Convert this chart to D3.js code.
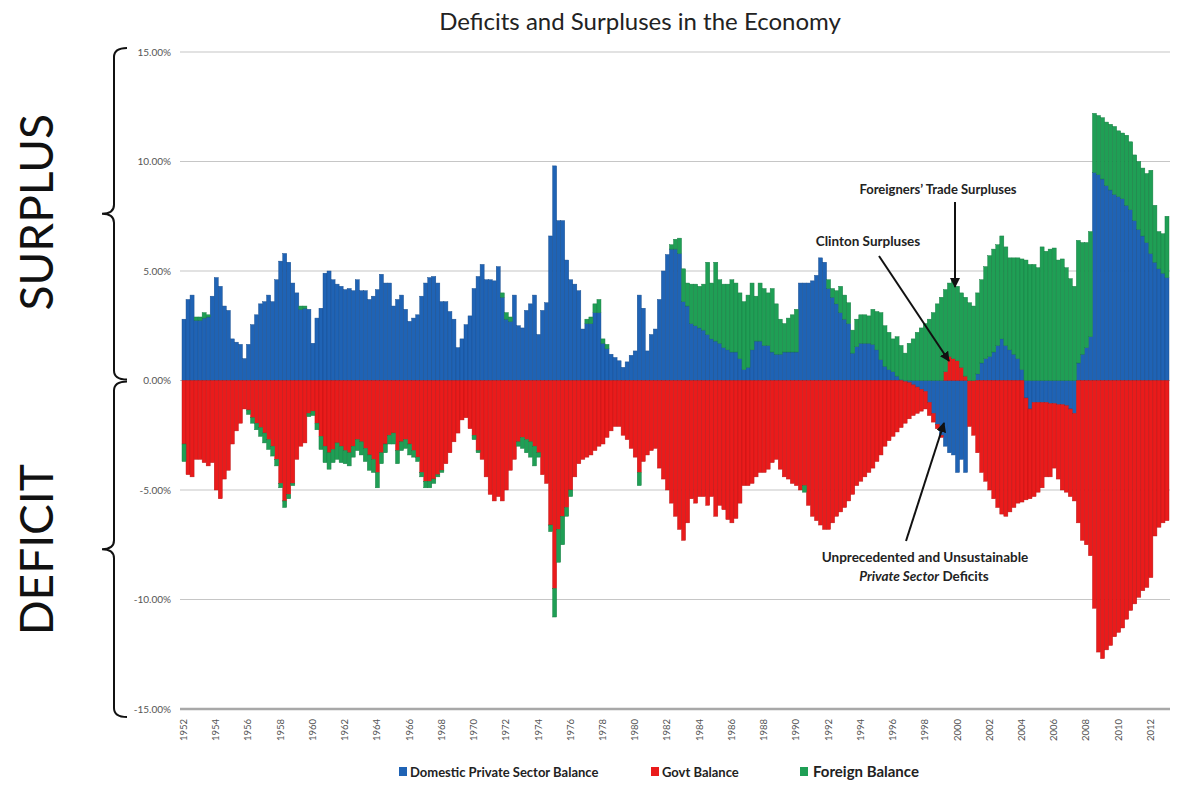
<!DOCTYPE html>
<html>
<head>
<meta charset="utf-8">
<script src="https://cdn.jsdelivr.net/npm/d3@7/dist/d3.min.js"></script>
<style>
  body { margin: 0; background: #ffffff; }
  svg { display: block; }
</style>
</head>
<body>
<svg id="chart"></svg>
<script>
// Quarterly sector balances, % of GDP, 1952Q1 .. 2013Q1
const firstYear = 1952;

const privateBalance = [
  2.8,3.7,3.9,2.75,2.75,2.85,2.9,3.85,4.7,4.3, 3.4,3.2,1.9,1.75,1.65,1.0,1.65,2.55,3.0,3.5,
  3.6,3.9,3.6,4.6,5.45,5.8,5.4,4.45,4.0,3.25, 3.3,3.25,1.7,2.85,3.3,4.9,5.0,4.6,4.4,4.3,
  4.15,4.2,4.1,4.6,4.1,4.1,3.7,3.85,4.15,4.85, 4.45,4.45,3.4,3.7,3.9,3.25,2.7,2.85,3.0,3.85,
  4.45,4.7,4.75,4.45,3.6,3.6,3.15,2.8,1.5,1.9, 2.55,2.95,4.2,4.75,5.3,4.6,4.6,4.55,5.2,3.8,
  2.8,
  2.7,3.9,2.5,2.4,3.2,3.5,3.9,2.1,3.2,3.55, 6.6,9.8,7.3,7.3,5.5,4.6,4.4,4.1,2.35,2.6,
  2.6,3.1,3.1,1.7,1.45,1.2,1.05,0.9,0.6,0.85, 1.15,1.35,3.9,3.3,1.35,2.1,2.35,3.7,5.0,5.75,
  6.0,6.0,
  5.8,3.6,3.4,2.6,2.5,2.4,2.3,2.1,1.9,1.8, 1.7,1.5,1.4,1.3,1.3,1.0,0.5,0.6,1.4,1.8,
  1.8,1.6,1.6,1.3,1.2,1.2,1.3,1.3,1.3,1.3, 4.45,4.45,4.45,4.55,4.8,5.6,5.4,4.2,3.8,3.5,
  3.1,2.8,2.6,1.25,1.55,1.7,1.7,1.7,1.65,1.4, 0.95,0.65,0.5,0.4,0.2,0.05,-0.05,-0.1,-0.2,-0.3,
  -0.4,-0.5,-1.0,-1.5,-2.0,-2.5,-3.0,-3.3,-3.4,-4.2, -3.6,-4.2,0,0,0.3,0.8,1.0,1.1,1.3,1.6,
  1.9,1.6,1.4,1.2,1.0,0.5,-0.8,-1.3,-1.0,-1.0, -1.0,-1.0,-1.05,-1.05,-1.1,-1.1,-1.15,-1.3,-1.5,0.8,
  1.2,1.5,2.0,9.5,9.4,9.2,8.9,8.7,8.5,8.4, 8.3,8.0,7.8,7.3,6.9,6.6,6.3,5.8,5.4,5.1,
  4.9,4.7
];

const govtBalance = [
  -2.9,-4.3,-4.4,-3.6,-3.6,-3.75,-3.9,-3.75,-5.0,-5.4, -4.5,-4.1,-2.9,-2.3,-1.95,-1.3,-1.35,-1.7,-1.95,-2.15,
  -2.4,-2.7,-3.0,-3.6,-4.7,-5.5,-5.2,-4.7,-3.6,-3.0, -2.85,-1.5,-1.4,-1.95,-2.55,-3.0,-3.3,-3.15,-2.85,-3.0,
  -3.2,-3.3,-3.0,-2.7,-2.8,-3.1,-3.4,-3.6,-4.2,-3.3, -2.9,-2.5,-2.4,-3.2,-2.8,-2.7,-2.9,-3.2,-3.5,-4.2,
  -4.6,-4.6,-4.5,-4.3,-4.1,-3.8,-3.3,-2.8,-2.4,-1.8, -1.7,-2.2,-2.5,-3.2,-3.6,-4.4,-5.2,-5.5,-5.3,-5.5,
  -5.0,
  -4.1,-3.6,-2.8,-2.6,-2.7,-2.8,-3.0,-3.3,-4.3,-4.7, -6.6,-9.5,-6.8,-6.2,-5.8,-5.0,-4.4,-3.8,-3.6,-3.5,
  -3.4,-3.2,-3.0,-2.9,-2.6,-2.3,-2.1,-2.1,-2.5,-2.7, -3.1,-3.5,-4.2,-3.7,-3.4,-3.2,-3.1,-4.0,-4.5,-5.0,
  -5.6,-6.2,
  -6.8,-7.3,-6.5,-5.4,-5.6,-5.3,-5.3,-5.7,-5.3,-6.2, -5.7,-5.9,-6.35,-6.5,-6.3,-5.6,-4.8,-4.8,-4.7,-4.4,
  -4.2,-4.2,-4.05,-3.75,-3.6,-4.05,-4.4,-4.5,-4.7,-4.8, -5.0,-4.8,-5.7,-6.2,-6.4,-6.6,-6.8,-6.8,-6.5,-6.2,
  -6.0,-5.8,-5.5,-5.2,-4.8,-4.6,-4.4,-4.2,-4.0,-3.7, -3.4,-3.0,-2.75,-2.55,-2.35,-2.15,-1.9,-1.65,-1.4,-1.2,
  -1.0,-0.8,-0.6,-0.4,-0.2,-0.1,0.4,1.1,1.0,0.9, 0.6,0.2,-2.1,-2.5,-3.3,-4.2,-4.6,-5.0,-5.4,-5.8,
  -6.1,-6.2,-6.0,-5.8,-5.6,-5.55,-4.65,-4.1,-4.3,-4.1, -3.9,-3.4,-3.35,-2.95,-3.4,-3.9,-3.95,-4.0,-4.0,-6.5,
  -7.3,-7.5,-8.0,-10.4,-12.4,-12.7,-12.3,-12.1,-11.7,-11.5, -11.3,-10.9,-10.5,-10.2,-9.9,-9.6,-9.45,-9.0,-7.1,-6.7,
  -6.5,-6.4
];

const foreignBalance = [
  -0.8,0,0,0.15,0.15,0.25,0.1,0,0,0, 0,0,0,0,0,0,-0.2,-0.25,-0.3,-0.4,
  -0.45,-0.45,-0.45,-0.3,-0.2,-0.3,-0.2,-0.1,0,0.15, 0.1,-0.15,-0.2,-0.3,-0.6,-0.75,-0.75,-0.6,-0.75,-0.75,
  -0.6,-0.6,-0.5,-0.5,-0.6,-0.6,-0.7,-0.6,-0.7,-0.5, -0.4,-0.4,-0.5,-0.6,-0.4,-0.4,-0.5,-0.3,-0.2,-0.2,
  -0.3,-0.3,-0.2,-0.1,-0.1,0,0,0,0,0, 0,0,-0.2,-0.1,0,0,0,0,0,0.2,
  0.3,
  0.2,0,-0.2,-0.5,-0.6,-0.7,-0.9,-0.2,0,0, -0.3,-1.3,-1.5,-1.3,-0.4,-0.3,0,0,0,0.2,
  0.3,0.4,0.6,0.2,0.2,0,0,0,0,0, 0,0,-0.6,0,0,0,0,0,0,0,
  0.2,0.45,
  0.7,1.5,1.05,1.8,1.9,1.9,2.1,3.3,2.55,3.6, 2.9,2.9,3.0,3.3,3.15,3.0,3.1,3.3,3.05,2.05,
  2.65,2.6,2.4,2.9,2.3,1.6,1.3,1.55,1.7,1.95, 0,-0.3,0,0,0,0,0,0.4,0.4,0.6,
  1.2,1.1,0.95,1.05,1.25,1.3,1.3,1.25,1.6,1.75, 2.15,1.85,1.7,1.5,1.8,1.55,1.25,1.7,1.9,2.2,
  2.4,2.6,2.8,3.1,3.5,3.8,3.75,3.35,3.6,3.4, 3.4,3.6,3.55,3.4,3.7,3.8,4.2,4.6,4.7,4.6,
  4.7,4.5,4.2,4.4,4.6,5.05,5.5,5.3,5.3,5.15, 6.1,5.9,6.0,6.05,5.5,5.55,5.15,4.65,4.3,5.6,
  5.1,4.8,4.8,2.7,2.7,2.8,2.9,3.0,3.1,3.0, 3.0,3.2,3.1,3.0,3.1,3.1,3.15,3.8,2.6,1.7,
  1.8,2.8
];

const seriesKeys = ["priv", "govt", "frgn"];
const seriesNames = ["Domestic Private Sector Balance", "Govt Balance", "Foreign Balance"];
const seriesColors = ["#1f63b5", "#ea1b1b", "#1f9f55"];

const yTickValues = [15, 10, 5, 0, -5, -10, -15];
const yearTickLabels = ["1952","1954","1956","1958","1960","1962","1964","1966","1968","1970",
  "1972","1974","1976","1978","1980","1982","1984","1986","1988","1990","1992","1994","1996",
  "1998","2000","2002","2004","2006","2008","2010","2012"];

const W = 1192, H = 788;
const plot = { left: 182, right: 1169, top: 52, bottom: 709 };

const svg = d3.select("#chart")
  .attr("width", W)
  .attr("height", H)
  .attr("font-family", "Lato, 'Open Sans', sans-serif");

// one row per quarter
const rows = privateBalance.map((v, i) => ({
  q: i,
  label: (firstYear + Math.floor(i / 4)) + "Q" + (i % 4 + 1),
  priv: v,
  govt: govtBalance[i],
  frgn: foreignBalance[i]
}));

const x = d3.scaleBand()
  .domain(rows.map(d => d.q))
  .range([plot.left, plot.right])
  .padding(0);

const y = d3.scaleLinear()
  .domain([-15, 15])
  .range([plot.bottom, plot.top]);

// Title
svg.append("text")
  .attr("x", 640)
  .attr("y", 30)
  .attr("text-anchor", "middle")
  .attr("font-size", "24px")
  .attr("fill", "#222")
  .text("Deficits and Surpluses in the Economy");

// Gridlines
svg.append("g")
  .selectAll("line")
  .data(yTickValues)
  .join("line")
    .attr("x1", plot.left - 2)
    .attr("x2", plot.right + 1)
    .attr("y1", d => y(d))
    .attr("y2", d => y(d))
    .attr("stroke", d => d === -15 ? "#a8a8a8" : "#c6c6c6")
    .attr("stroke-width", d => d === -15 ? 2.5 : 1.2);

// Y labels
const yAxis = d3.axisLeft(y)
  .tickValues(yTickValues)
  .tickFormat(d => d.toFixed(2) + "%")
  .tickSize(0)
  .tickPadding(0);

svg.append("g")
  .attr("transform", `translate(171,0)`)
  .call(yAxis)
  .call(g => g.select(".domain").remove())
  .call(g => g.selectAll("text")
    .attr("font-family", "Lato, sans-serif")
    .attr("font-size", "10px")
    .attr("fill", "#555"));

// Stacked bars (positives up, negatives down)
const stack = d3.stack()
  .keys(seriesKeys)
  .offset(d3.stackOffsetDiverging);
const stacked = stack(rows);

const layers = svg.append("g")
  .selectAll("g")
  .data(stacked)
  .join("g")
    .attr("fill", (d, i) => seriesColors[i])
    .attr("stroke", (d, i) => d3.color(seriesColors[i]).darker(0.7))
    .attr("stroke-width", 0.45);

layers.selectAll("rect")
  .data(d => d.filter(p => p[1] !== p[0]))
  .join("rect")
    .attr("x", d => x(d.data.q))
    .attr("width", x.bandwidth())
    .attr("y", d => y(Math.max(d[0], d[1])))
    .attr("height", d => Math.abs(y(d[0]) - y(d[1])));

// X labels, every 2 years
const xLabelGroup = svg.append("g");
yearTickLabels.forEach(lab => {
  const q = (+lab - firstYear) * 4;
  const cx = x(q) + x.bandwidth() / 2;
  xLabelGroup.append("text")
    .attr("transform", `translate(${cx + 3},719) rotate(-90)`)
    .attr("text-anchor", "end")
    .attr("font-size", "9.5px")
    .attr("fill", "#555")
    .text(lab);
});

// Braces on the left
function brace(xs, y1, y2) {
  const tip = xs - 12, hook = xs + 13, r = 9, ym = (y1 + y2) / 2;
  return `M${hook},${y1} Q${xs},${y1} ${xs},${y1 + r} L${xs},${ym - r} ` +
         `Q${xs},${ym} ${tip},${ym} Q${xs},${ym} ${xs},${ym + r} ` +
         `L${xs},${y2 - r} Q${xs},${y2} ${hook},${y2}`;
}
svg.append("path")
  .attr("d", brace(114, y(15) - 4, y(0) - 1))
  .attr("fill", "none").attr("stroke", "#111").attr("stroke-width", 2);
svg.append("path")
  .attr("d", brace(114, y(0) + 1, y(-15) + 8))
  .attr("fill", "none").attr("stroke", "#111").attr("stroke-width", 2);

svg.append("text")
  .attr("transform", `translate(53,${(y(15) + y(0)) / 2 - 4}) rotate(-90)`)
  .attr("text-anchor", "middle")
  .attr("font-size", "46px")
  .attr("fill", "#111")
  .text("SURPLUS");
svg.append("text")
  .attr("transform", `translate(53,${(y(0) + y(-15)) / 2 + 5}) rotate(-90)`)
  .attr("text-anchor", "middle")
  .attr("font-size", "46px")
  .attr("fill", "#111")
  .text("DEFICIT");

// Annotations
svg.append("defs").append("marker")
  .attr("id", "arrow")
  .attr("viewBox", "0 0 10 10")
  .attr("refX", 9).attr("refY", 5)
  .attr("markerWidth", 5).attr("markerHeight", 5)
  .attr("orient", "auto")
  .append("path")
    .attr("d", "M0,0 L10,5 L0,10 Z")
    .attr("fill", "#111");

const note = svg.append("g")
  .attr("font-size", "13.5px")
  .attr("font-weight", "bold")
  .attr("fill", "#222")
  .attr("text-anchor", "middle");

note.append("text").attr("x", 938).attr("y", 194).attr("font-size", "13px").text("Foreigners\u2019 Trade Surpluses");
note.append("text").attr("x", 868).attr("y", 246).text("Clinton Surpluses");
note.append("text").attr("x", 925).attr("y", 562).text("Unprecedented and Unsustainable");
const ps = note.append("text").attr("x", 924).attr("y", 581);
ps.append("tspan").attr("font-style", "italic").text("Private Sector");
ps.append("tspan").text(" Deficits");

const arrows = [
  [955, 202, 955, 287],
  [879, 256, 949, 361],
  [906, 541, 944, 423]
];
svg.append("g")
  .selectAll("line")
  .data(arrows)
  .join("line")
    .attr("x1", d => d[0]).attr("y1", d => d[1])
    .attr("x2", d => d[2]).attr("y2", d => d[3])
    .attr("stroke", "#111")
    .attr("stroke-width", 2)
    .attr("marker-end", "url(#arrow)");

// Legend
const legendX = [399, 651, 800];
const legend = svg.append("g")
  .selectAll("g")
  .data(seriesNames)
  .join("g")
    .attr("transform", (d, i) => `translate(${legendX[i]},772)`);
legend.append("rect")
  .attr("x", 0).attr("y", -5)
  .attr("width", 8).attr("height", 9)
  .attr("fill", (d, i) => seriesColors[i]);
legend.append("text")
  .attr("x", (d, i) => i === 2 ? 13 : 11)
  .attr("y", 5)
  .attr("font-size", (d, i) => i === 2 ? "15px" : "13px")
  .attr("font-weight", "bold")
  .attr("fill", "#222")
  .text(d => d);
</script>
</body>
</html>
